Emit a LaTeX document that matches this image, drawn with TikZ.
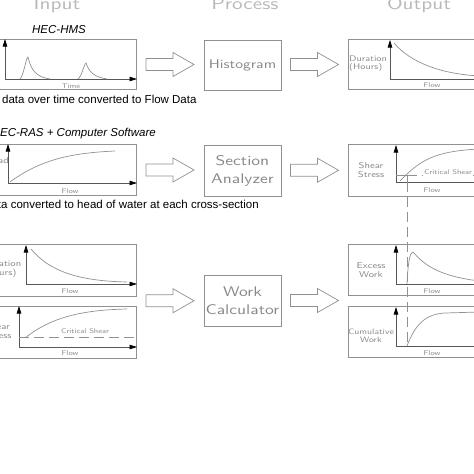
\documentclass[tikz,border=0pt]{standalone}
\usepackage{fontspec}
\newfontfamily\capfont{Liberation Sans}
\newfontfamily\cadfont{lmsans10-regular.otf}[FakeStretch=1.25]
\usetikzlibrary{arrows.meta,fit,calc}
\definecolor{colorline}{RGB}{145,145,145}
\definecolor{colorhead}{RGB}{185,185,185}
\definecolor{colorcad}{RGB}{135,135,135}
\newcommand{\cadsize}[1]{\cadfont\fontsize{#1}{#1}\selectfont}
\tikzstyle{panel}=[rectangle, draw=colorline, line width=0.7pt, inner sep=0pt]
\tikzstyle{axis}=[draw=colorline!60!black, line width=0.7pt, <->, >={Triangle[length=7.5pt, width=4.5pt, color=black]}]
\tikzstyle{curve}=[draw=colorline, line width=0.7pt]
\tikzstyle{critical}=[draw=colorline, line width=0.7pt, dash pattern=on 10pt off 5pt]
\tikzstyle{header}=[text=colorhead, font=\cadsize{17}, inner sep=0pt, anchor=base]
\tikzstyle{proclabel}=[text=colorcad, font=\cadsize{14}, align=center, inner sep=0pt]
\tikzstyle{ylabel}=[text=colorcad, font=\cadsize{8.5}, inner sep=0pt]
\tikzstyle{xlabel}=[text=colorcad, font=\cadsize{6.8}, inner sep=0pt]
\tikzstyle{caption}=[font=\capfont\fontsize{11.5}{13}\selectfont, inner sep=0pt]
\tikzset{fatarrow/.pic={\draw[colorline, line width=0.7pt] (-24,-6) -- (3,-6) -- (3,-12) -- (24,0) -- (3,12) -- (3,6) -- (-24,6) -- cycle;}}

\begin{document}
\begin{tikzpicture}[x=1pt, y=-1pt]
	\useasboundingbox (0,0) rectangle (474,474);
	\clip (0,0) rectangle (474,474);
	
	\node[header] at (57, 9.5) (hin) {Input};
	\node[header] at (245, 9.5) (hproc) {Process};
	\node[header] at (419, 9.5) (hout) {Output};
	
	% input
	\node[caption, font=\capfont\itshape\fontsize{11.5}{13}\selectfont, anchor=base] at (59, 33) (hms) {HEC-HMS};
	\node[panel, fit={(-60,39) (136,89)}] (in1) {};
	\draw[axis] (5,39) -- (5,79) -- (137,79);
	\draw[curve] (20,79) .. controls (24,75) and (26,57) .. (28,57) .. controls (31,70) and (36,77) .. (50,79);
	\draw[curve] (78,79) .. controls (82,76) and (84,64) .. (86,63) .. controls (89,72) and (94,77) .. (107,79);
	\node[xlabel] at (71, 86) (t1) {Time};
	\node[caption, anchor=base west] at (2, 103) (cap1) {data over time converted to Flow Data};
	
	\node[caption, font=\capfont\itshape\fontsize{11.5}{13}\selectfont, anchor=base east] at (156, 136) (ras) {HEC-RAS + Computer Software};
	\node[panel, fit={(-60,144) (136,195)}] (in2) {};
	\draw[axis] (8,144) -- (8,183) -- (137,183);
	\draw[curve] (10,182) .. controls (40,160) and (70,153) .. (115,151);
	\node[ylabel, anchor=east] at (9, 161) (y2) {Head};
	\node[xlabel] at (70, 191) (f2) {Flow};
	\node[caption, anchor=base east] at (259, 208) (cap2) {data converted to head of water at each cross-section};
	
	\node[panel, fit={(-60,244) (136,296)}] (in3) {};
	\draw[axis] (26,245) -- (26,284) -- (137,284);
	\draw[curve] (31,249) .. controls (50,272) and (80,281) .. (127,282);
	\node[ylabel, align=left, anchor=west] at (-18, 269) (y3) {Duration\\(Hours)};
	\node[xlabel] at (70, 291) (f3) {Flow};
	
	\node[panel, fit={(-60,306) (136,358)}] (in4) {};
	\draw[axis] (19,306) -- (19,347) -- (137,347);
	\draw[critical] (19,337) -- (136,337);
	\draw[curve] (25,338) .. controls (50,318) and (80,310) .. (127,309);
	\node[ylabel, align=left, anchor=west] at (-15, 331) (y4) {Shear\\Stress};
	\node[xlabel] at (85, 331) (c4) {Critical Shear};
	\node[xlabel] at (70, 353) (f4) {Flow};
	\coordinate (in34) at ($(in3.south east)!0.5!(in4.north east)$);
	
	% process
	\node[panel, fit={(204,40) (281,90)}] (proc1) {};
	\node[proclabel, font=\cadsize{12.5}] at (proc1) {Histogram};
	\node[panel, fit={(204,145) (281,196)}] (proc2) {};
	\node[proclabel] at (proc2) {Section\\[4pt]Analyzer};
	\node[panel, fit={(204,275) (281,326)}] (proc3) {};
	\node[proclabel] at (proc3) {Work\\[4pt]Calculator};
	
	% output
	\node[panel, fit={(348,39) (540,89)}] (out1) {};
	\draw[axis] (390,40) -- (390,79) -- (540,79);
	\draw[curve] (394,43) .. controls (410,62) and (440,74) .. (480,76);
	\node[ylabel, font=\cadsize{8.2}, align=left, anchor=west] at (349, 64) (y5) {Duration\\(Hours)};
	\node[xlabel] at (432, 85) (f5) {Flow};
	
	\node[panel, fit={(348,144) (540,196)}] (out2) {};
	\draw[axis] (396,145) -- (396,182) -- (540,182);
	\draw[critical] (407,175) -- (540,175);
	\draw[curve] (396,175) -- (407,175) -- (407,182);
	\draw[curve] (400,181) .. controls (420,160) and (435,151) .. (480,149);
	\node[ylabel, align=center] at (371, 170) (y6) {Shear\\Stress};
	\node[xlabel, fill=white, inner sep=1.5pt] at (448, 172) (c6) {Critical Shear};
	\node[xlabel] at (432, 190) (f6) {Flow};
	
	\node[panel, fit={(348,244) (540,295)}] (out3) {};
	\draw[axis] (396,245) -- (396,284) -- (540,284);
	\draw[curve] (407,284) .. controls (408,262) and (410,252) .. (413,252) .. controls (422,262) and (435,276) .. (480,281);
	\node[ylabel, align=center] at (371, 270) (y7) {Excess\\Work};
	\node[xlabel] at (432, 291) (f7) {Flow};
	
	\node[panel, fit={(348,306) (540,357)}] (out4) {};
	\draw[axis] (396,307) -- (396,346) -- (540,346);
	\draw[curve] (407,346) .. controls (415,325) and (425,314) .. (445,313) -- (480,312);
	\node[ylabel, font=\cadsize{7.8}, align=center] at (371, 336) (y8) {Cumulative\\Work};
	\node[xlabel] at (432, 353) (f8) {Flow};
	\coordinate (out34) at ($(out3.south west)!0.5!(out4.north west)$);
	
	\draw[critical] (407,182) -- (407,346);
	
	\pic at ($(in1.east)!0.5!(proc1.west)$) {fatarrow};
	\pic at ($(proc1.east)!0.5!(out1.west)$) {fatarrow};
	\pic at ($(in2.east)!0.5!(proc2.west)$) {fatarrow};
	\pic at ($(proc2.east)!0.5!(out2.west)$) {fatarrow};
	\pic at ($(in34)!0.5!(proc3.west)$) {fatarrow};
	\pic at ($(proc3.east)!0.5!(out34)$) {fatarrow};
	
\end{tikzpicture}
\end{document}
